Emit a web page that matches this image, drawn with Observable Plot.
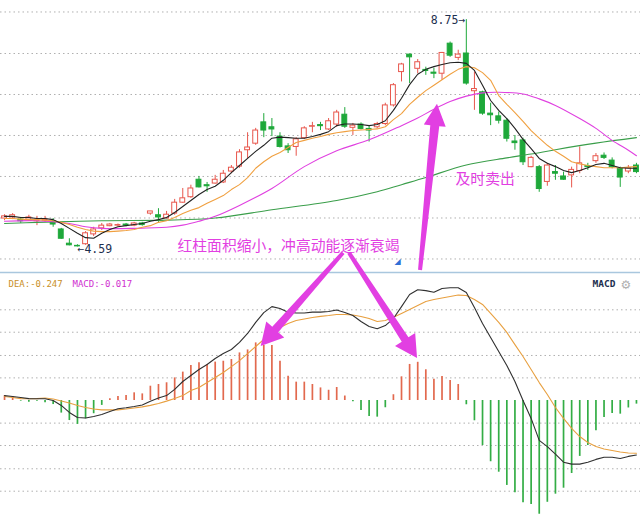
<!DOCTYPE html>
<html><head><meta charset="utf-8">
<script src="https://cdn.jsdelivr.net/npm/d3@7"></script>
<script src="https://cdn.jsdelivr.net/npm/@observablehq/plot@0.6"></script>
<style>
html,body{margin:0;padding:0;background:#fff;}
#chart{width:640px;}
#chart svg{display:block;}
</style></head><body><div id="chart"></div>
<script>
// ---- price candles (79 sessions) ----
const open  = [5.11,5.13,5.09,5.09,5.06,5.07,5.06,4.91,4.65,4.61, 4.64,4.82,4.93,4.97,4.98,5.00,4.98,5.02,5.20,5.17, 5.11,5.20,5.40,5.50,5.82,5.72,5.75,5.77,5.97,6.06, 6.36,6.48,6.87,6.78,6.61,6.43,6.42,6.58,6.79,6.82, 6.74,6.83,7.01,6.77,6.83,6.75,6.78,6.84,7.18,7.79, 8.11,7.85,7.83,7.78,7.76,8.31,8.05,8.13,7.44,7.42, 7.03,6.98,6.90,6.52,6.54,6.05,6.05,5.78,5.96,5.88, 5.90,5.98,6.07,6.16,6.26,6.17,6.02,5.97,6.08];
const high  = [5.18,5.20,5.13,5.17,5.15,5.15,5.11,4.93,4.74,4.63, 4.87,4.95,5.02,5.02,5.01,5.02,5.04,5.04,5.24,5.29, 5.24,5.46,5.66,5.72,5.88,5.77,5.90,5.99,6.08,6.37, 6.68,6.76,7.03,6.94,6.68,6.48,6.59,6.79,6.87,6.87, 6.94,7.09,7.14,6.85,6.86,6.81,6.87,7.22,7.58,7.95, 8.12,8.02,7.88,7.86,8.15,8.34,8.19,8.75,7.79,7.44, 7.22,7.06,6.94,6.63,6.58,6.25,6.08,6.12,6.08,5.96, 6.05,6.42,6.12,6.30,6.31,6.22,6.05,6.08,6.12];
const low   = [5.07,5.09,5.02,5.06,4.98,5.04,4.95,4.73,4.61,4.59, 4.62,4.78,4.89,4.96,4.96,4.96,4.96,4.97,5.17,5.04, 5.10,5.17,5.39,5.48,5.67,5.59,5.74,5.75,5.93,6.03, 6.21,6.45,6.59,6.61,6.40,6.30,6.25,6.56,6.68,6.72, 6.72,6.78,6.76,6.63,6.73,6.51,6.75,6.81,7.15,7.61, 7.58,7.76,7.73,7.67,7.64,8.06,8.00,7.55,7.09,7.00, 6.81,6.84,6.51,6.36,6.08,6.04,5.59,5.70,5.81,5.81, 5.67,5.93,5.99,6.12,6.19,6.02,5.68,5.93,5.93];
const close = [5.15,5.17,5.06,5.13,5.09,5.09,5.00,4.74,4.62,4.60, 4.84,4.91,4.98,5.00,4.99,4.98,5.02,4.99,5.24,5.13, 5.18,5.40,5.48,5.66,5.68,5.70,5.82,5.93,6.04,6.32, 6.41,6.72,6.72,6.74,6.42,6.36,6.56,6.76,6.80,6.80, 6.89,7.05,6.79,6.81,6.75,6.72,6.84,7.18,7.55,7.93, 8.06,7.97,7.81,7.76,8.14,8.09,8.11,7.58,7.48,7.03, 7.00,6.90,6.57,6.49,6.14,6.22,5.65,6.08,5.93,5.82, 6.00,6.12,6.05,6.25,6.22,6.05,5.86,6.03,5.96];

// ---- moving averages ----
const ma5  = [5.15,5.15,5.13,5.13,5.11,5.11,5.09,5.02,4.93,4.84, 4.76,4.75,4.84,4.91,4.96,4.98,5.00,5.02,5.06,5.09, 5.13,5.22,5.33,5.44,5.55,5.64,5.70,5.81,5.95,6.08, 6.21,6.34,6.45,6.58,6.60,6.59,6.58,6.58,6.61,6.65, 6.70,6.81,6.84,6.84,6.83,6.81,6.83,6.90,7.09,7.31, 7.56,7.75,7.84,7.89,7.93,7.96,7.97,7.95,7.82,7.55, 7.27,7.09,6.94,6.76,6.56,6.39,6.21,6.12,6.06,5.99, 5.95,5.99,6.04,6.10,6.12,6.08,6.04,6.03,6.03];
const ma10 = [5.11,5.11,5.10,5.09,5.09,5.08,5.07,5.04,5.00,4.95, 4.91,4.88,4.87,4.87,4.88,4.89,4.91,4.95,4.98,5.04, 5.07,5.13,5.20,5.26,5.31,5.39,5.46,5.53,5.64,5.73, 5.86,6.03,6.15,6.25,6.32,6.41,6.50,6.54,6.58,6.61, 6.65,6.68,6.70,6.72,6.73,6.74,6.75,6.79,6.92,7.03, 7.20,7.33,7.45,7.55,7.65,7.75,7.84,7.89,7.87,7.78, 7.64,7.36,7.20,7.05,6.89,6.72,6.58,6.45,6.34,6.25, 6.15,6.11,6.08,6.06,6.04,6.04,6.04,6.05,6.06];
const ma20Idx = [0,4,8,10,12,16,20,22,24,26,29,33,37,41,45,49,51,53,55,57,59,61,64,66,68,71,73,75,77,78];
const ma20Val = [5.06,5.07,5.02,4.96,4.93,4.93,4.95,4.99,5.06,5.15,5.35,5.66,6.06,6.35,6.55,6.81,6.95,7.11,7.25,7.35,7.41,7.42,7.39,7.30,7.18,6.94,6.76,6.54,6.36,6.26];
const ma60Idx = [0,4,12,20,26,33,41,46,49,52,57,62,65,68,73,78];
const ma60Val = [5.02,5.04,5.07,5.08,5.12,5.27,5.44,5.60,5.73,5.86,6.09,6.22,6.29,6.37,6.49,6.59];

// ---- MACD ----
const dif  = [0.023,0.019,0.014,0.009,0.008,0.008,0.000,-0.023,-0.056,-0.080, -0.082,-0.075,-0.066,-0.052,-0.039,-0.034,-0.028,-0.021,-0.003,0.012, 0.023,0.052,0.089,0.117,0.145,0.169,0.197,0.220,0.239,0.272, 0.314,0.366,0.412,0.440,0.431,0.414,0.410,0.410,0.414,0.414, 0.417,0.424,0.412,0.398,0.370,0.347,0.336,0.351,0.384,0.440, 0.497,0.519,0.515,0.507,0.525,0.528,0.528,0.506,0.436,0.361, 0.295,0.230,0.164,0.089,0.000,-0.084,-0.187,-0.216,-0.251,-0.289, -0.298,-0.298,-0.289,-0.276,-0.266,-0.266,-0.272,-0.262,-0.2555];
const dea  = [0.019,0.014,0.009,0.008,0.009,0.012,0.007,-0.002,-0.012,-0.023, -0.033,-0.040,-0.044,-0.044,-0.044,-0.040,-0.035,-0.030,-0.023,-0.014, -0.003,0.009,0.023,0.047,0.061,0.084,0.108,0.131,0.159,0.187, 0.220,0.253,0.286,0.314,0.342,0.361,0.375,0.382,0.389,0.394, 0.398,0.403,0.403,0.401,0.394,0.384,0.370,0.375,0.390,0.408, 0.426,0.445,0.464,0.473,0.480,0.487,0.494,0.492,0.473,0.450, 0.408,0.366,0.319,0.262,0.206,0.145,0.084,0.028,-0.033,-0.084, -0.131,-0.169,-0.197,-0.216,-0.227,-0.234,-0.241,-0.246,-0.247];
const hist = [0.023,0.019,-0.003,-0.008,-0.003,-0.011,-0.019,-0.059,-0.094,-0.112, -0.086,-0.062,-0.023,0.008,0.019,0.023,0.036,0.031,0.067,0.075, 0.083,0.106,0.133,0.164,0.177,0.169,0.180,0.184,0.192,0.223, 0.237,0.270,0.258,0.258,0.184,0.114,0.086,0.086,0.075,0.059, 0.048,0.061,0.021,-0.006,-0.047,-0.075,-0.078,-0.034,0.027,0.111, 0.169,0.179,0.144,0.100,0.112,0.094,0.075,-0.020,-0.095,-0.211, -0.287,-0.336,-0.398,-0.432,-0.479,-0.487,-0.533,-0.477,-0.439,-0.411, -0.342,-0.262,-0.211,-0.142,-0.080,-0.061,-0.064,-0.035,-0.017];

// ---- grid levels ----
const priceGrid = [8.89, 8.13, 7.38, 6.63, 5.88, 5.12, 4.37];
const macdGrid = [0.425, 0.320, 0.211, 0.106, -0.106, -0.211, -0.320, -0.425];

// ---- annotation texts / anchors (data units) ----
const noteTexts = ["红柱面积缩小，冲高动能逐渐衰竭", "及时卖出"];
const noteIdx = [21.35, 55.67];
const notePrice = [4.607, 5.833];
const upArrow = [{x1: 51.35, y1: 4.16, x2: 53.44, y2: 7.20}];
const macdArrows = [{x1: 41.84, y1: 0.69, x2: 31.68, y2: 0.253}, {x1: 42.58, y1: 0.69, x2: 50.98, y2: 0.197}];

// ------------------------------------------------------------------
const UP = "#e8564c", DOWN = "#1ea83a", MAG = "#e23fe2";
const N = open.length;
const candles = open.map((o, i) => ({i, o, h: high[i], l: low[i], c: close[i], up: close[i] >= o}));
const ma20 = ma20Idx.map((i, k) => ({i, v: ma20Val[k]}));
const ma60 = ma60Idx.map((i, k) => ({i, v: ma60Val[k]}));
const notes = noteTexts.map((t, k) => ({t, i: noteIdx[k], v: notePrice[k]}));
const hi = candles.reduce((a, b) => b.h > a.h ? b : a);
const lo = candles.reduce((a, b) => b.l < a.l ? b : a);
const macd = hist.map((v, i) => ({i, v}));

function arrowMark(list, color, o) {
  return (index, scales) => {
    const g = d3.create("svg:g").attr("fill", color);
    for (const a of list) {
      const x0 = scales.x(a.x1), y0 = scales.y(a.y1), x1 = scales.x(a.x2), y1 = scales.y(a.y2);
      const dx = x1 - x0, dy = y1 - y0, L = Math.hypot(dx, dy);
      const ux = dx / L, uy = dy / L, nx = -uy, ny = ux;
      const bx = x1 - ux * o.head, by = y1 - uy * o.head;
      const p = [
        [x0 + nx * o.w0, y0 + ny * o.w0], [bx + nx * o.w1, by + ny * o.w1], [bx + nx * o.hw, by + ny * o.hw],
        [x1, y1],
        [bx - nx * o.hw, by - ny * o.hw], [bx - nx * o.w1, by - ny * o.w1], [x0 - nx * o.w0, y0 - ny * o.w0]
      ];
      g.append("path").attr("d", "M" + p.map(q => q.join(",")).join("L") + "Z");
    }
    return g.node();
  };
}

const X = {type: "linear", domain: [-0.5, N - 0.5], axis: null};

const priceChart = Plot.plot({
  width: 640, height: 272, margin: 0,
  style: {overflow: "visible", background: "white"},
  x: X,
  y: {domain: [4.1224, 9.10], axis: null},
  marks: [
    Plot.ruleY(priceGrid, {stroke: "#b0b0b0", strokeDasharray: "1.5 3"}),
    Plot.ruleX(candles, {x: "i", y1: "l", y2: "h", stroke: d => d.up ? UP : DOWN}),
    Plot.rect(candles, {x1: d => d.i - 0.3, x2: d => d.i + 0.3, y1: "o", y2: "c",
      fill: d => d.up ? "white" : DOWN, stroke: d => d.up ? UP : DOWN}),
    Plot.line(ma60, {x: "i", y: "v", stroke: "#3a9e4a", curve: "catmull-rom", strokeWidth: 1.1}),
    Plot.line(ma20, {x: "i", y: "v", stroke: "#e040e0", curve: "catmull-rom", strokeWidth: 1.1}),
    Plot.line(ma10, {x: (d, i) => i, y: d => d, stroke: "#f0a040", strokeWidth: 1.1}),
    Plot.line(ma5, {x: (d, i) => i, y: d => d, stroke: "#222", strokeWidth: 1.1}),
    Plot.text([hi], {x: "i", y: "h", text: d => d.h.toFixed(2) + "→", textAnchor: "end", dx: -1, dy: 1,
      fontFamily: "DejaVu Sans Mono", fontSize: 11.5, fill: "#1d2f4f"}),
    Plot.text([lo], {x: "i", y: "l", text: d => "←" + d.l.toFixed(2), textAnchor: "start", dx: 0, dy: 2,
      fontFamily: "DejaVu Sans Mono", fontSize: 11.5, fill: "#1d2f4f"}),
    Plot.text(notes, {x: "i", y: "v", text: "t", textAnchor: "start", fontFamily: "Noto Sans CJK SC",
      fontSize: 14.8, fill: MAG}),
    Plot.text(["◢"], {x: 48.5, y: 4.33, text: d => d, fill: "#2f6fd6", fontSize: 8, fontFamily: "DejaVu Sans"}),
    arrowMark(upArrow, MAG, {head: 22, hw: 11, w0: 2, w1: 4.5})
  ]
});

const macdChart = Plot.plot({
  width: 640, height: 243, margin: 0,
  style: {overflow: "visible", background: "transparent"},
  x: X,
  y: {domain: [-0.53889, 0.59981], axis: null},
  marks: [
    Plot.ruleY(macdGrid, {stroke: "#b0b0b0", strokeDasharray: "1.5 3"}),
    Plot.ruleY([0.59981], {stroke: "#a9c7de", strokeWidth: 1.5}),
    Plot.ruleX(macd, {x: "i", y1: 0, y2: "v", stroke: d => d.v >= 0 ? "#e2694e" : "#33ad45", strokeWidth: 1.7}),
    Plot.line(dea, {x: (d, i) => i, y: d => d, stroke: "#e8a040", strokeWidth: 1.1}),
    Plot.line(dif, {x: (d, i) => i, y: d => d, stroke: "#303030", strokeWidth: 1.1}),
    Plot.text(["DEA:" + dea[N - 1].toFixed(3)], {frameAnchor: "top-left", dx: 8, dy: 8, text: d => d, textAnchor: "start",
      fontFamily: "DejaVu Sans Mono", fontSize: 9, fill: "#c98f1f"}),
    Plot.text(["MACD:" + hist[N - 1].toFixed(3)], {frameAnchor: "top-left", dx: 72, dy: 8, text: d => d, textAnchor: "start",
      fontFamily: "DejaVu Sans Mono", fontSize: 9, fill: "#d02fd0"}),
    Plot.text(["MACD"], {frameAnchor: "top-left", dx: 592, dy: 8, text: d => d, textAnchor: "start",
      fontFamily: "DejaVu Sans Mono", fontSize: 9.5, fontWeight: "bold", fill: "#1d2f4f"}),
    Plot.text(["⚙"], {frameAnchor: "top-left", dx: 620, dy: 8, text: d => d, textAnchor: "start",
      fontFamily: "DejaVu Sans", fontSize: 12, fill: "#b0b0b0"}),
    arrowMark(macdArrows, MAG, {head: 22, hw: 12, w0: 2, w1: 4})
  ]
});

document.getElementById("chart").append(priceChart, macdChart);
</script></body></html>
